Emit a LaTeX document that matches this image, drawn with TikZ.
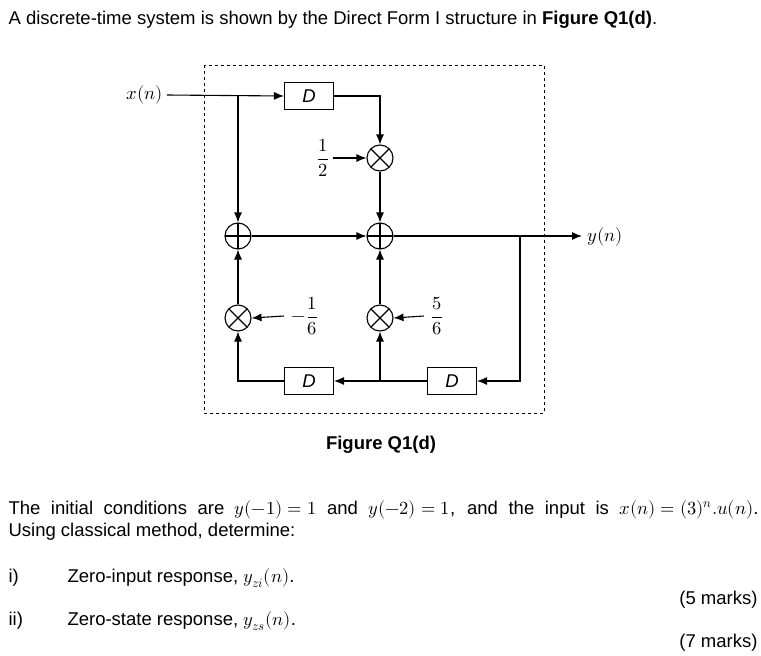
\documentclass[tikz,border=0pt]{standalone}
\usepackage{fontspec}
\setmainfont{Liberation Sans}
\usepackage{unicode-math}
\setmathfont{Latin Modern Math}
\usetikzlibrary{arrows.meta}
\begin{document}
\begin{tikzpicture}[x=1pt,y=-1pt,font=\fontsize{18.5}{22}\selectfont,line width=1.1pt,
  arr/.style={-{Latex[length=10pt,width=8pt]}},
  dbox/.style={draw,minimum width=49pt,minimum height=27pt,inner sep=0pt},
  adder/.style={draw,circle,minimum size=26pt,inner sep=0pt,path picture={
    \draw (path picture bounding box.north)--(path picture bounding box.south)
          (path picture bounding box.west)--(path picture bounding box.east);}},
  mult/.style={draw,circle,minimum size=26pt,inner sep=0pt,path picture={
    \draw (path picture bounding box.north west)--(path picture bounding box.south east)
          (path picture bounding box.south west)--(path picture bounding box.north east);}},
  lbl/.style={anchor=west,inner sep=0pt}]
\useasboundingbox (0,0) rectangle (761,656);
\node[lbl] (t1) at (8,20) {A discrete-time system is shown by the Direct Form I structure in \textbf{Figure Q1(d)}.};
\draw[dashed,line width=0.9pt] (204,65) rectangle (544,413);
\node (xn) at (145,95) {$x(n)$};
\node[dbox] (d0) at (309,96) {\textit{D}};
\node[mult] (m0) at (380,158) {};
\node (h) at (323,158) {$\displaystyle\frac{1}{2}$};
\node[adder] (a1) at (238,236) {};
\node[adder] (a2) at (380,236) {};
\node (yn) at (605,237) {$y(n)$};
\coordinate (ye) at (582,236);
\coordinate (br) at (520,236);
\node[mult] (m1) at (238,318) {};
\node[mult] (m2) at (380,318) {};
\node (c1) at (305,316) {$\displaystyle-\frac{1}{6}$};
\node (c2) at (437,316) {$\displaystyle\frac{5}{6}$};
\node[dbox] (d1) at (309,381) {\textit{D}};
\node[dbox] (d2) at (452,381) {\textit{D}};
\coordinate (j0) at (238,96);
\coordinate (j1) at (380,381);
\draw[arr] (xn.east) -- (d0.west);
\draw[arr] (d0.east) -| (m0.north);
\draw[arr] (h.east) -- (m0.west);
\draw[arr] (j0) -- (a1.north);
\draw[arr] (m0.south) -- (a2.north);
\draw[arr] (a1.east) -- (a2.west);
\draw[arr] (a2.east) -- (ye);
\draw[arr] (br) |- (d2.east);
\draw[arr] (d2.west) -- (d1.east);
\draw[arr] (j1) -- (m2.south);
\draw[arr] (m2.north) -- (a2.south);
\draw[arr] (d1.west) -| (m1.south);
\draw[arr] (m1.north) -- (a1.south);
\draw[arr] (284,316) -- (m1.east);
\draw[arr] (424,316) -- (m2.east);
\node (fig) at (381,445) {\textbf{Figure Q1(d)}};
\node[anchor=north west,inner sep=0pt,text width=750pt,align=justify] (p) at (8,500)
 {\thickmuskip=5mu\medmuskip=4mu The initial conditions are $y(-1)=1$ and $y(-2)=1$, and the input is $x(n)=(3)^n.u(n)$.\linebreak Using classical method, determine:};
\node[lbl] (i1) at (8,578) {i)};
\node[lbl] (i2) at (67,578) {Zero-input response, $y_{zi}(n)$.};
\node[anchor=east,inner sep=0pt] (m5) at (758,600) {(5 marks)};
\node[lbl] (ii1) at (8,621) {ii)};
\node[lbl] (ii2) at (67,621) {Zero-state response, $y_{zs}(n)$.};
\node[anchor=east,inner sep=0pt] (m7) at (758,643) {(7 marks)};
\end{tikzpicture}
\end{document}
